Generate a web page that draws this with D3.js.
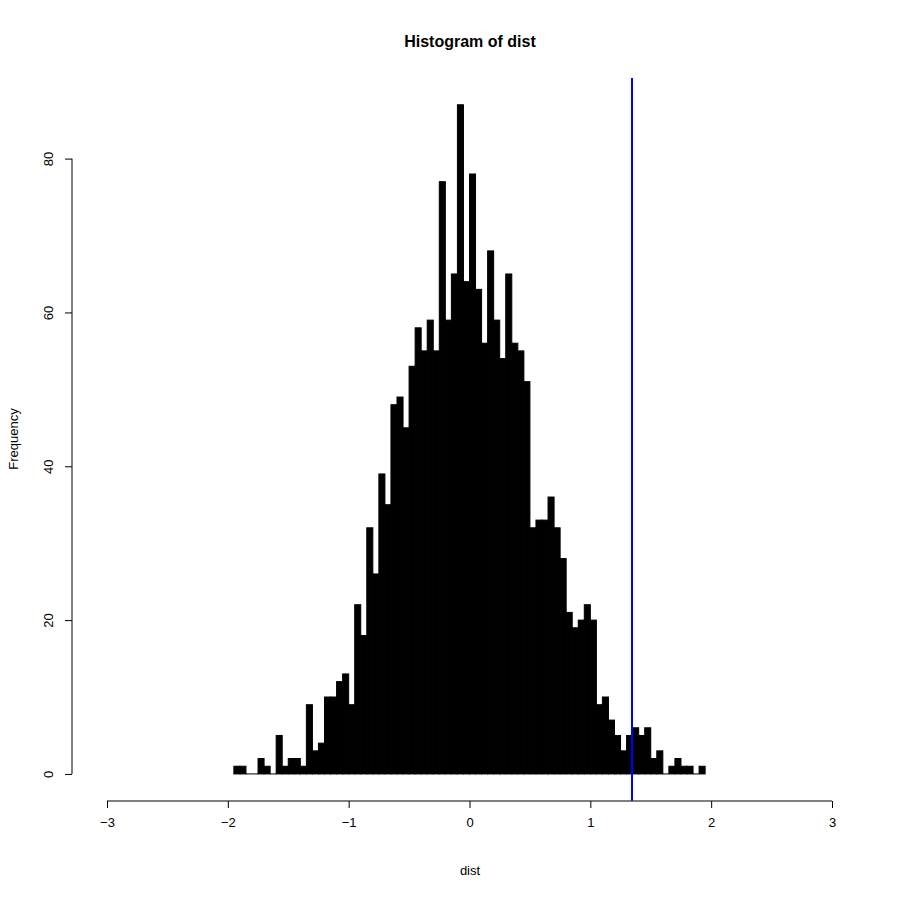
<!DOCTYPE html>
<html><head><meta charset="utf-8">
<script src="https://cdn.jsdelivr.net/npm/d3@7"></script>
<style>body{margin:0;background:#fff;} text{font-family:"Liberation Sans",Arial,sans-serif;}</style>
</head><body><div id="chart"></div>
<script>
var binStart = -1.95, binWidth = 0.05;
var counts = [1,1,0,0,2,1,0,5,1,2,2,1,9,3,4,10,10,12,13,9,
  22,18,32,26,39,35,48,49,45,53,58,55,59,55,77,
  59,65,87,64,78,63,56,68,59,54,65,56,55,51,
  32,33,33,36,32,28,21,19,20,22,20,9,10,7,5,3,5,6,5,6,2,3,0,1,2,1,1,0,1];
var xTicks = [-3,-2,-1,0,1,2,3];
var yTicks = [0,20,40,60,80];
var vline = 1.345;

var svg = d3.select("#chart").append("svg").attr("width",903).attr("height",900);
var x = d3.scaleLinear().domain([-3.24,3.24]).range([78,861]);
var y = d3.scaleLinear().domain([-3.48,90.48]).range([800.7,78]);

var bins = counts.map((c,i)=>({x0:binStart+i*binWidth, x1:binStart+(i+1)*binWidth, n:c}));
svg.selectAll("rect.bar").data(bins.filter(d=>d.n>0)).enter().append("rect")
  .attr("x",d=>x(d.x0)).attr("width",d=>x(d.x1)-x(d.x0))
  .attr("y",d=>y(d.n)).attr("height",d=>y(0)-y(d.n))
  .attr("fill","black").attr("stroke","black").attr("stroke-width",1);
// zero-height bins still show a baseline
svg.selectAll("line.zero").data(bins.filter(d=>d.n==0)).enter().append("line")
  .attr("x1",d=>x(d.x0)).attr("x2",d=>x(d.x1)).attr("y1",y(0)).attr("y2",y(0))
  .attr("stroke","black");

svg.append("line").attr("x1",x(vline)).attr("x2",x(vline)).attr("y1",y.range()[1]).attr("y2",y.range()[0])
  .attr("stroke","blue").attr("stroke-width",2);

var xAxis = svg.append("g").attr("transform","translate(0,801)")
  .call(d3.axisBottom(x).tickValues(xTicks).tickSize(7).tickPadding(12).tickFormat(d3.format("d")));
var yAxis = svg.append("g").attr("transform","translate(72,0)")
  .call(d3.axisLeft(y).tickValues(yTicks).tickSize(7).tickPadding(10));
[xAxis,yAxis].forEach(g=>{
  g.select(".domain").attr("d", null);
  g.selectAll("text").attr("font-size","13px").attr("font-family","Liberation Sans, Arial, sans-serif").attr("fill","black");
});
xAxis.append("line").attr("x1",x(-3)).attr("x2",x(3)).attr("stroke","black");
yAxis.append("line").attr("y1",y(0)).attr("y2",y(80)).attr("stroke","black");
yAxis.selectAll(".tick text").attr("transform","rotate(-90)").attr("text-anchor","middle")
  .attr("x",0).attr("y",-24).attr("dy","0.35em");
xAxis.selectAll(".tick text").attr("dy","0.5em");

svg.append("text").attr("x",470).attr("y",47).attr("text-anchor","middle")
  .attr("font-size","16px").attr("font-weight","bold").text("Histogram of dist");
svg.append("text").attr("x",470).attr("y",875).attr("text-anchor","middle")
  .attr("font-size","13px").text("dist");
svg.append("text").attr("transform","translate(18,439) rotate(-90)").attr("text-anchor","middle")
  .attr("font-size","13px").text("Frequency");
</script></body></html>
